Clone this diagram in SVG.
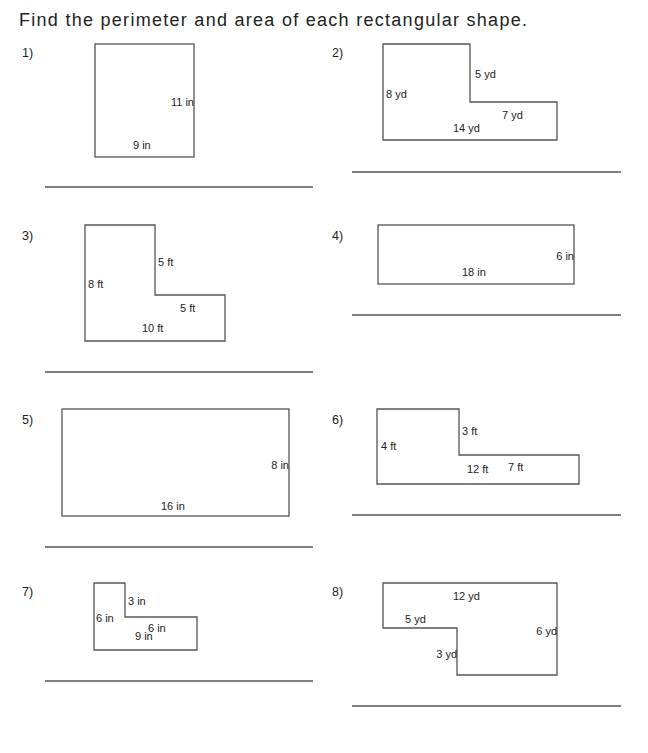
<svg xmlns="http://www.w3.org/2000/svg" width="648" height="753" viewBox="0 0 648 753">
<style>
.s{fill:none;stroke:#555;stroke-width:1.3}
.l{stroke:#555;stroke-width:1.5}
text{font-family:"Liberation Sans",Arial,sans-serif;fill:#222}
.t{font-size:18px}
.n{font-size:12.5px}
.d{font-size:11px}
.r{text-anchor:end}
</style>
<rect width="648" height="753" fill="#fff"/>
<text class="t" x="19" y="26" textLength="508" lengthAdjust="spacing">Find the perimeter and area of each rectangular shape.</text>
<g id="p1">
<text class="n" x="22" y="57">1)</text>
<rect class="s" x="95" y="44" width="99" height="113"/>
<text class="d r" x="194" y="106">11 in</text>
<text class="d" x="133" y="149">9 in</text>
<line class="l" x1="45" y1="187" x2="313" y2="187"/>
</g>
<g id="p2">
<text class="n" x="332" y="57">2)</text>
<path class="s" d="M383,44H470V102H557V140H383Z"/>
<text class="d" x="475" y="78">5 yd</text>
<text class="d" x="386" y="98">8 yd</text>
<text class="d" x="502" y="119">7 yd</text>
<text class="d" x="453" y="132">14 yd</text>
<line class="l" x1="352" y1="172" x2="621" y2="172"/>
</g>
<g id="p3">
<text class="n" x="22" y="240">3)</text>
<path class="s" d="M85,225H155V295H225V341H85Z"/>
<text class="d" x="158" y="266">5 ft</text>
<text class="d" x="88" y="288">8 ft</text>
<text class="d" x="180" y="312">5 ft</text>
<text class="d" x="142" y="332">10 ft</text>
<line class="l" x1="45" y1="372" x2="313" y2="372"/>
</g>
<g id="p4">
<text class="n" x="332" y="240">4)</text>
<rect class="s" x="378" y="225" width="196" height="59"/>
<text class="d r" x="574" y="260">6 in</text>
<text class="d" x="462" y="276">18 in</text>
<line class="l" x1="352" y1="315" x2="621" y2="315"/>
</g>
<g id="p5">
<text class="n" x="22" y="424">5)</text>
<rect class="s" x="62" y="409" width="227" height="107"/>
<text class="d r" x="289" y="469">8 in</text>
<text class="d" x="161" y="510">16 in</text>
<line class="l" x1="45" y1="547" x2="313" y2="547"/>
</g>
<g id="p6">
<text class="n" x="332" y="424">6)</text>
<path class="s" d="M377,409H459V455H579V484H377Z"/>
<text class="d" x="462" y="435">3 ft</text>
<text class="d" x="381" y="450">4 ft</text>
<text class="d" x="467" y="473">12 ft</text>
<text class="d" x="508" y="471">7 ft</text>
<line class="l" x1="352" y1="515" x2="621" y2="515"/>
</g>
<g id="p7">
<text class="n" x="22" y="596">7)</text>
<path class="s" d="M94,583H125V617H197V650H94Z"/>
<text class="d" x="128" y="605">3 in</text>
<text class="d" x="96" y="622">6 in</text>
<text class="d" x="148" y="632">6 in</text>
<text class="d" x="135" y="640">9 in</text>
<line class="l" x1="45" y1="681" x2="313" y2="681"/>
</g>
<g id="p8">
<text class="n" x="332" y="596">8)</text>
<path class="s" d="M383,583H557V675H457V628H383Z"/>
<text class="d" x="453" y="600">12 yd</text>
<text class="d" x="405" y="623">5 yd</text>
<text class="d r" x="557" y="635">6 yd</text>
<text class="d r" x="457" y="658">3 yd</text>
<line class="l" x1="352" y1="706" x2="621" y2="706"/>
</g>
</svg>
